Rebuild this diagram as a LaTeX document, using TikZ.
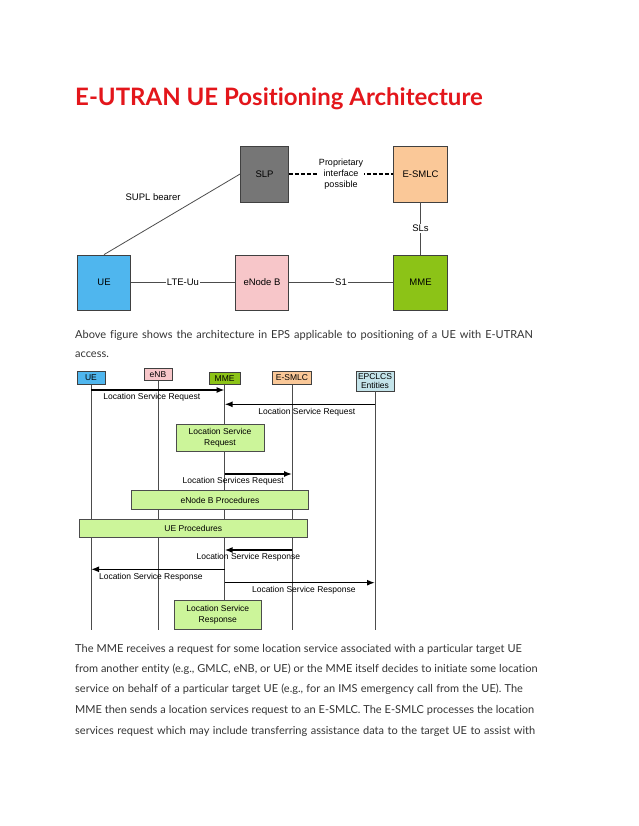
\documentclass[tikz,border=0pt]{standalone}
\usepackage{fontspec}
\setmainfont{Lato}[Ligatures=NoCommon]
\setsansfont{Liberation Sans}
\usetikzlibrary{arrows.meta,positioning}

\definecolor{titlered}{HTML}{E3161B}
\definecolor{uefill}{HTML}{4FB6EE}
\definecolor{enbfill}{HTML}{F7C6C9}
\definecolor{mmefill}{HTML}{8CC317}
\definecolor{slpfill}{HTML}{767676}
\definecolor{smlcfill}{HTML}{FAC898}
\definecolor{lcsfill}{HTML}{C4E4EA}
\definecolor{procfill}{HTML}{CCF59A}
\definecolor{bodytext}{HTML}{333333}

\tikzset{
  entity/.style={draw=black!75, line width=0.8pt, inner sep=0pt, align=center,
    font=\sffamily\fontsize{9.5}{10}\selectfont},
  head/.style={draw=black!75, line width=0.7pt, inner sep=0pt, align=center,
    font=\sffamily\fontsize{8.5}{9}\selectfont},
  proc/.style={draw=black!70, fill=procfill, line width=0.8pt, inner sep=0pt,
    align=center, font=\sffamily\fontsize{8.5}{10.5}\selectfont},
  link/.style={draw=black!70, line width=0.8pt},
  lifeline/.style={draw=black!70, line width=0.8pt},
  msg/.style={line width=1.4pt, -{Latex[length=8pt,width=6pt]}},
  msglbl/.style={font=\sffamily\fontsize{8.5}{9}\selectfont, inner sep=1pt, below=2pt},
  linklbl/.style={font=\sffamily\fontsize{9.5}{10}\selectfont, fill=white, inner sep=1pt},
  bodyline/.style={anchor=base west, inner sep=0pt, text=bodytext,
    font=\fontsize{11}{13}\selectfont},
}

\begin{document}
\begin{tikzpicture}[x=1pt, y=-1pt]
    \useasboundingbox (0,0) rectangle (638,826);

    % title
    \node[anchor=base west, inner sep=0pt, text=titlered,
      font=\bfseries\fontsize{24}{28}\selectfont] (title) at (75,106)
      {E-UTRAN UE Positioning Architecture};

    % architecture boxes
    \node[entity, fill=slpfill,  minimum width=48pt, minimum height=56pt] (slp)  at (264.5,174) {SLP};
    \node[entity, fill=smlcfill, minimum width=54pt, minimum height=56pt] (smlc) at (420.5,174) {E-SMLC};
    \node[entity, fill=uefill,   minimum width=53pt, minimum height=55pt] (ue)   at (104,282.5) {UE};
    \node[entity, fill=enbfill,  minimum width=53pt, minimum height=55pt] (enb)  at (262,282.5) {eNode B};
    \node[entity, fill=mmefill,  minimum width=54pt, minimum height=55pt] (mme)  at (420.5,282.5) {MME};

    % interfaces
    \draw[link] (ue.north) -- node[linklbl, fill=none, pos=.5, xshift=-19pt, yshift=17.5pt] {SUPL bearer} (slp.west);
    \draw[link] (ue) -- node[linklbl] {LTE-Uu} (enb);
    \draw[link] (enb) -- node[linklbl] {S1} (mme);
    \draw[link] (smlc) -- node[linklbl] {SLs} (mme);
    \draw[line width=1.8pt, dash pattern=on 4pt off 2pt] (slp) --
      node[linklbl, align=center, font=\sffamily\fontsize{9}{11}\selectfont] {Proprietary\\interface\\possible} (smlc);

    % text under the figure
    \node[bodyline] (txta) at (75,338.3) {\makebox[457.7pt][s]{Above figure shows the architecture in EPS applicable to positioning of a UE with E-UTRAN}};
    \node[bodyline] (txtb) at (75,357.5) {access.};

    % sequence chart heads
    \node[head, fill=uefill,   minimum width=28pt, minimum height=12.6pt] (ueH)   at (91,378)    {UE};
    \node[head, fill=enbfill,  minimum width=28pt, minimum height=12.4pt] (enbH)  at (158,374.5) {eNB};
    \node[head, fill=mmefill,  minimum width=31pt, minimum height=12pt]   (mmeH)  at (224.6,378.3) {MME};
    \node[head, fill=smlcfill, minimum width=38.6pt, minimum height=12.6pt] (smlcH) at (292,378) {E-SMLC};
    \node[head, fill=lcsfill,  minimum width=38pt, minimum height=20pt]   (lcsH)  at (375,381)   {EPCLCS\\Entities};

    % lifelines
    \foreach \h in {ueH,enbH,mmeH,smlcH,lcsH}{
        \coordinate (\h end) at (\h |- 0,630);
        \draw[lifeline] (\h.south) -- (\h end);
    }

    % messages
    \draw[msg] (ueH |- 0,390) -- node[msglbl, xshift=-6pt] {Location Service Request} (mmeH |- 0,390);
    \draw[msg] (lcsH |- 0,404.3) -- node[msglbl, xshift=7pt] {Location Service Request} (mmeH |- 0,404.3);

    \node[proc, minimum width=88pt, minimum height=27.4pt] (lsreq) at (220,438) {Location Service\\Request};

    \draw[msg] (mmeH |- 0,474) -- node[msglbl, xshift=-25pt] {Location Services Request} (smlcH |- 0,474);

    \node[proc, minimum width=176.6pt, minimum height=18.6pt] (enbproc) at (220,500) {eNode B Procedures};
    \node[proc, minimum width=228pt,   minimum height=18pt]   (ueproc)  at (193.3,528.3) {UE Procedures};

    \draw[msg] (smlcH |- 0,550) -- node[msglbl, xshift=-10pt] {Location Service Response} (mmeH |- 0,550);
    \draw[msg] (mmeH |- 0,569.3) -- node[msglbl, xshift=-7pt] {Location Service Response} (ueH |- 0,569.3);
    \draw[msg] (mmeH |- 0,582.7) -- node[msglbl, xshift=4pt] {Location Service Response} (lcsH |- 0,582.7);

    \node[proc, minimum width=87.7pt, minimum height=28.6pt] (lsresp) at (217.8,615) {Location Service\\Response};

    % text below the chart
    \node[bodyline] (txt1) at (75,652.3) {\makebox[446.7pt][s]{The MME receives a request for some location service associated with a particular target UE}};
    \node[bodyline] (txt2) at (75,672.5) {\makebox[462.3pt][s]{from another entity (e.g., GMLC, eNB, or UE) or the MME itself decides to initiate some location}};
    \node[bodyline] (txt3) at (75,692.5) {\makebox[447.7pt][s]{service on behalf of a particular target UE (e.g., for an IMS emergency call from the UE). The}};
    \node[bodyline] (txt4) at (75,713.3) {\makebox[459pt][s]{MME then sends a location services request to an E-SMLC. The E-SMLC processes the location}};
    \node[bodyline] (txt5) at (75,734.3) {\makebox[460pt][s]{services request which may include transferring assistance data to the target UE to assist with}};
\end{tikzpicture}
\end{document}
